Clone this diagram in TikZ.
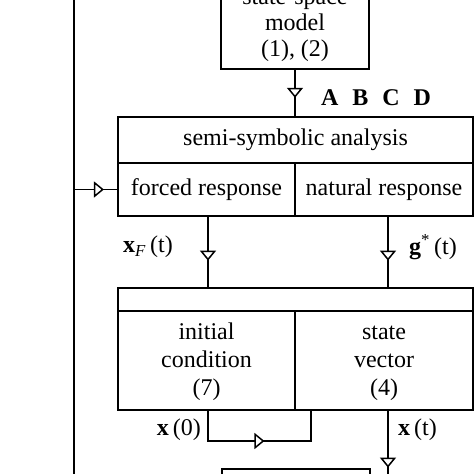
\documentclass[tikz,border=0pt]{standalone}
\usepackage{fontspec}
\setmainfont{Liberation Serif}
\usetikzlibrary{arrows.meta,decorations.markings}
\tikzset{
  box/.style={draw, line width=1.6pt, inner sep=0pt, outer sep=0pt, align=center,
    font=\fontsize{24}{26}\selectfont},
  wire/.style={line width=1.6pt},
  mid/.style={postaction={decorate,decoration={markings,
    mark=at position #1 with {\arrow{Triangle[length=10pt,width=16pt,fill=white,line width=1.5pt]}}}}},
  lbl/.style={inner sep=0pt, font=\fontsize{24}{26}\selectfont}
}
\begin{document}
\begin{tikzpicture}[x=1pt,y=-1pt]
\useasboundingbox (0,0) rectangle (474,474);
\clip (0,0) rectangle (474,474);
% boxes
\node[box, minimum width=148pt, minimum height=86pt] (model) at (295,26) {state-space\\model\\(1), (2)};
\node[box, minimum width=355pt, minimum height=46pt] (ssa) at (295.5,140) {semi-symbolic analysis};
\node[box, minimum width=177pt, minimum height=53pt] (forced) at (206.5,189.5) {forced response};
\node[box, minimum width=178pt, minimum height=53pt] (natural) at (384,189.5) {natural response};
\node[box, minimum width=355pt, minimum height=23pt] (band) at (295.5,299.5) {};
\node[box, minimum width=177pt, minimum height=99pt, font=\fontsize{24}{28}\selectfont] (init) at (206.5,360.5) {\strut initial\\condition\\(7)};
\node[box, minimum width=178pt, minimum height=99pt, font=\fontsize{24}{28}\selectfont] (statevec) at (384,360.5) {\strut state\\vector\\(4)};
\node[box, minimum width=148pt, minimum height=90pt] (out) at (296,514) {};
% left feedback line
\coordinate (ltop) at (74,-10);
\coordinate (lbot) at (74,484);
\coordinate (lfeed) at (74,189.5);
\draw[wire] (ltop) -- (lbot);
\draw[wire, mid=0.68] (lfeed) -- (forced.west);
% connectors
\draw[wire, mid=0.6] (model.south) -- (ssa.north -| model.south);
\coordinate (xf) at (208,216);
\coordinate (gs) at (388,216);
\draw[wire, mid=0.62] (xf) -- (xf |- band.north);
\draw[wire, mid=0.62] (gs) -- (gs |- band.north);
\coordinate (x0a) at (208,410);
\coordinate (x0b) at (311,410);
\draw[wire, mid=0.53] (x0a) -- ++(0,31) -| (x0b);
\coordinate (xta) at (388,410);
\coordinate (xtb) at (388,490);
\draw[wire, mid=0.72] (xta) -- (xtb);
% labels
\node[lbl, font=\fontsize{24}{26}\selectfont\bfseries] (abcd) at (376,98) {A\hspace{14pt}B\hspace{14pt}C\hspace{14pt}D};
\node[lbl, anchor=east] (lxf) at (173,247) {\textbf{x}\textsubscript{\textit{F}}\,(t)};
\node[lbl, anchor=west] (lgs) at (409,247) {\textbf{g}\textsuperscript{*}\,(t)};
\node[lbl, anchor=east] (lx0) at (201,430) {\textbf{x}\,(0)};
\node[lbl, anchor=west] (lxt) at (398,430) {\textbf{x}\,(t)};
\end{tikzpicture}
\end{document}
